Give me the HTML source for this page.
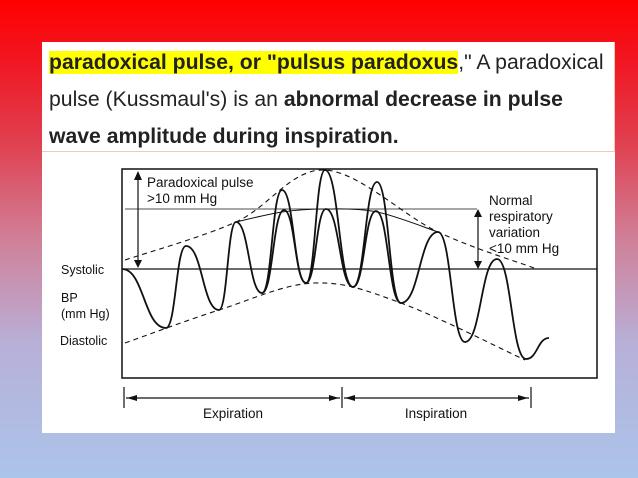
<!DOCTYPE html>
<html><head><meta charset="utf-8">
<style>
html,body{margin:0;padding:0}
body{width:638px;height:478px;position:relative;overflow:hidden;
background:linear-gradient(to bottom,#ff0000 0%,#f21520 12%,#e04050 30%,#d08098 50%,#b8b0d8 72%,#abc4ea 100%);
font-family:"Liberation Sans",Arial,sans-serif}
#card{position:absolute;left:42px;top:42px;width:573px;height:391px;background:#fff}
#txt{position:absolute;left:0;top:0;width:573px;height:110px;border-bottom:1px solid #f6c8b0;border-right:1px solid #f6c8b0;box-sizing:border-box;padding:2px 0 0 7px;font-size:21.2px;line-height:37px;color:#222;white-space:nowrap}
#txt b{font-weight:bold}
.hl{background:#ffff00}
svg{position:absolute;left:0;top:0}
</style></head>
<body>
<div id="card">
<div id="txt"><b class="hl">paradoxical pulse, or "pulsus paradoxus</b>," A paradoxical<br>pulse (Kussmaul's) is an <b>abnormal decrease in pulse</b><br><b>wave amplitude during inspiration.</b></div>
</div>
<svg width="638" height="478" font-family="Liberation Sans, Arial, sans-serif" font-size="13.5" fill="#111">
<rect x="122" y="169" width="475" height="209" fill="none" stroke="#111" stroke-width="1.5"/>
<line x1="122" y1="269" x2="597" y2="269" stroke="#111" stroke-width="1.2"/>
<line x1="125" y1="209" x2="477" y2="209" stroke="#111" stroke-width="0.8"/>
<g id="marks"></g>
<g stroke="#111" stroke-width="1.2" fill="#111">
<line x1="138" y1="178" x2="138" y2="262"/>
<path d="M134,180 L138,171 L142,180Z M134,260 L138,268 L142,260Z" stroke="none"/>
<line x1="478" y1="215" x2="478" y2="263"/>
<path d="M474,217 L478,209 L482,217Z M474,261 L478,269 L482,261Z" stroke="none"/>
<line x1="124" y1="387" x2="124" y2="408"/><line x1="342" y1="387" x2="342" y2="408"/><line x1="531" y1="387" x2="531" y2="408"/>
<line x1="126" y1="398" x2="340" y2="398"/>
<line x1="344" y1="398" x2="529" y2="398"/>
<path d="M127,398 L137,395 L137,401Z M339,398 L329,395 L329,401Z M345,398 L355,395 L355,401Z M528,398 L518,395 L518,401Z" stroke="none"/>
</g>
<text x="147" y="187">Paradoxical pulse</text>
<text x="147" y="203">&gt;10 mm Hg</text>
<text x="489" y="205">Normal</text>
<text x="489" y="221">respiratory</text>
<text x="489" y="237">variation</text>
<text x="489" y="253">&lt;10 mm Hg</text>
<text x="61" y="274" font-size="12.5">Systolic</text>
<text x="61" y="302" font-size="12.5">BP</text>
<text x="61" y="318" font-size="12.5">(mm Hg)</text>
<text x="60" y="345" font-size="12.5">Diastolic</text>
<text x="233" y="418" text-anchor="middle">Expiration</text>
<text x="436" y="418" text-anchor="middle">Inspiration</text>
</svg>
<script>
// waveform extrema (x, y in diagram px)
const outerX = [122,166,186,219,236,262,282,306,325,353,377,401,438,465,497,526,549];
const outerY = [269,328,246,310,222,293,190,283,170,287,182,303,232,342,259,359,338];
const innerX = [262,284,306,326,353,376,401];
const innerY = [293,210,283,209,287,211,303];
const upperX = [125,236,325,438,534];
const upperY = [260,222,170,232,268];
const lowerX = [125,219,314,401,525];
const lowerY = [343,310,283,303,360];
const arcX = [236,282,325,377,438];
const arcY = [222,212,209,212,232];
const g = document.getElementById('marks');
function wave(xs, ys){
  let d = 'M'+xs[0]+','+ys[0];
  for(let i=1;i<xs.length;i++){
    const dx=(xs[i]-xs[i-1])*0.5;
    d+=' C'+(xs[i-1]+dx)+','+ys[i-1]+' '+(xs[i]-dx)+','+ys[i]+' '+xs[i]+','+ys[i];
  }
  return d;
}
function smooth(xs, ys){
  let d='M'+xs[0]+','+ys[0];
  for(let i=1;i<xs.length;i++){
    const p0=[xs[Math.max(i-2,0)],ys[Math.max(i-2,0)]],p1=[xs[i-1],ys[i-1]],p2=[xs[i],ys[i]],p3=[xs[Math.min(i+1,xs.length-1)],ys[Math.min(i+1,xs.length-1)]];
    d+=' C'+(p1[0]+(p2[0]-p0[0])/6)+','+(p1[1]+(p2[1]-p0[1])/6)+' '+(p2[0]-(p3[0]-p1[0])/6)+','+(p2[1]-(p3[1]-p1[1])/6)+' '+p2[0]+','+p2[1];
  }
  return d;
}
function add(d, dash, w, name){
  const p=document.createElementNS('http://www.w3.org/2000/svg','path');
  p.setAttribute('d',d);p.setAttribute('fill','none');p.setAttribute('stroke','#111');
  p.setAttribute('stroke-width',w);if(dash)p.setAttribute('stroke-dasharray',dash);
  
  
  g.appendChild(p);
}
add(smooth(upperX,upperY),'5,4',1.1,'upper-envelope');
add(smooth(lowerX,lowerY),'5,4',1.1,'lower-envelope');
add(smooth(arcX,arcY),null,1,'normal-envelope');
add(wave(innerX,innerY),null,1.8,'normal-pulse-wave');
add(wave(outerX,outerY),null,1.8,'paradoxical-pulse-wave');
</script>
</body></html>
